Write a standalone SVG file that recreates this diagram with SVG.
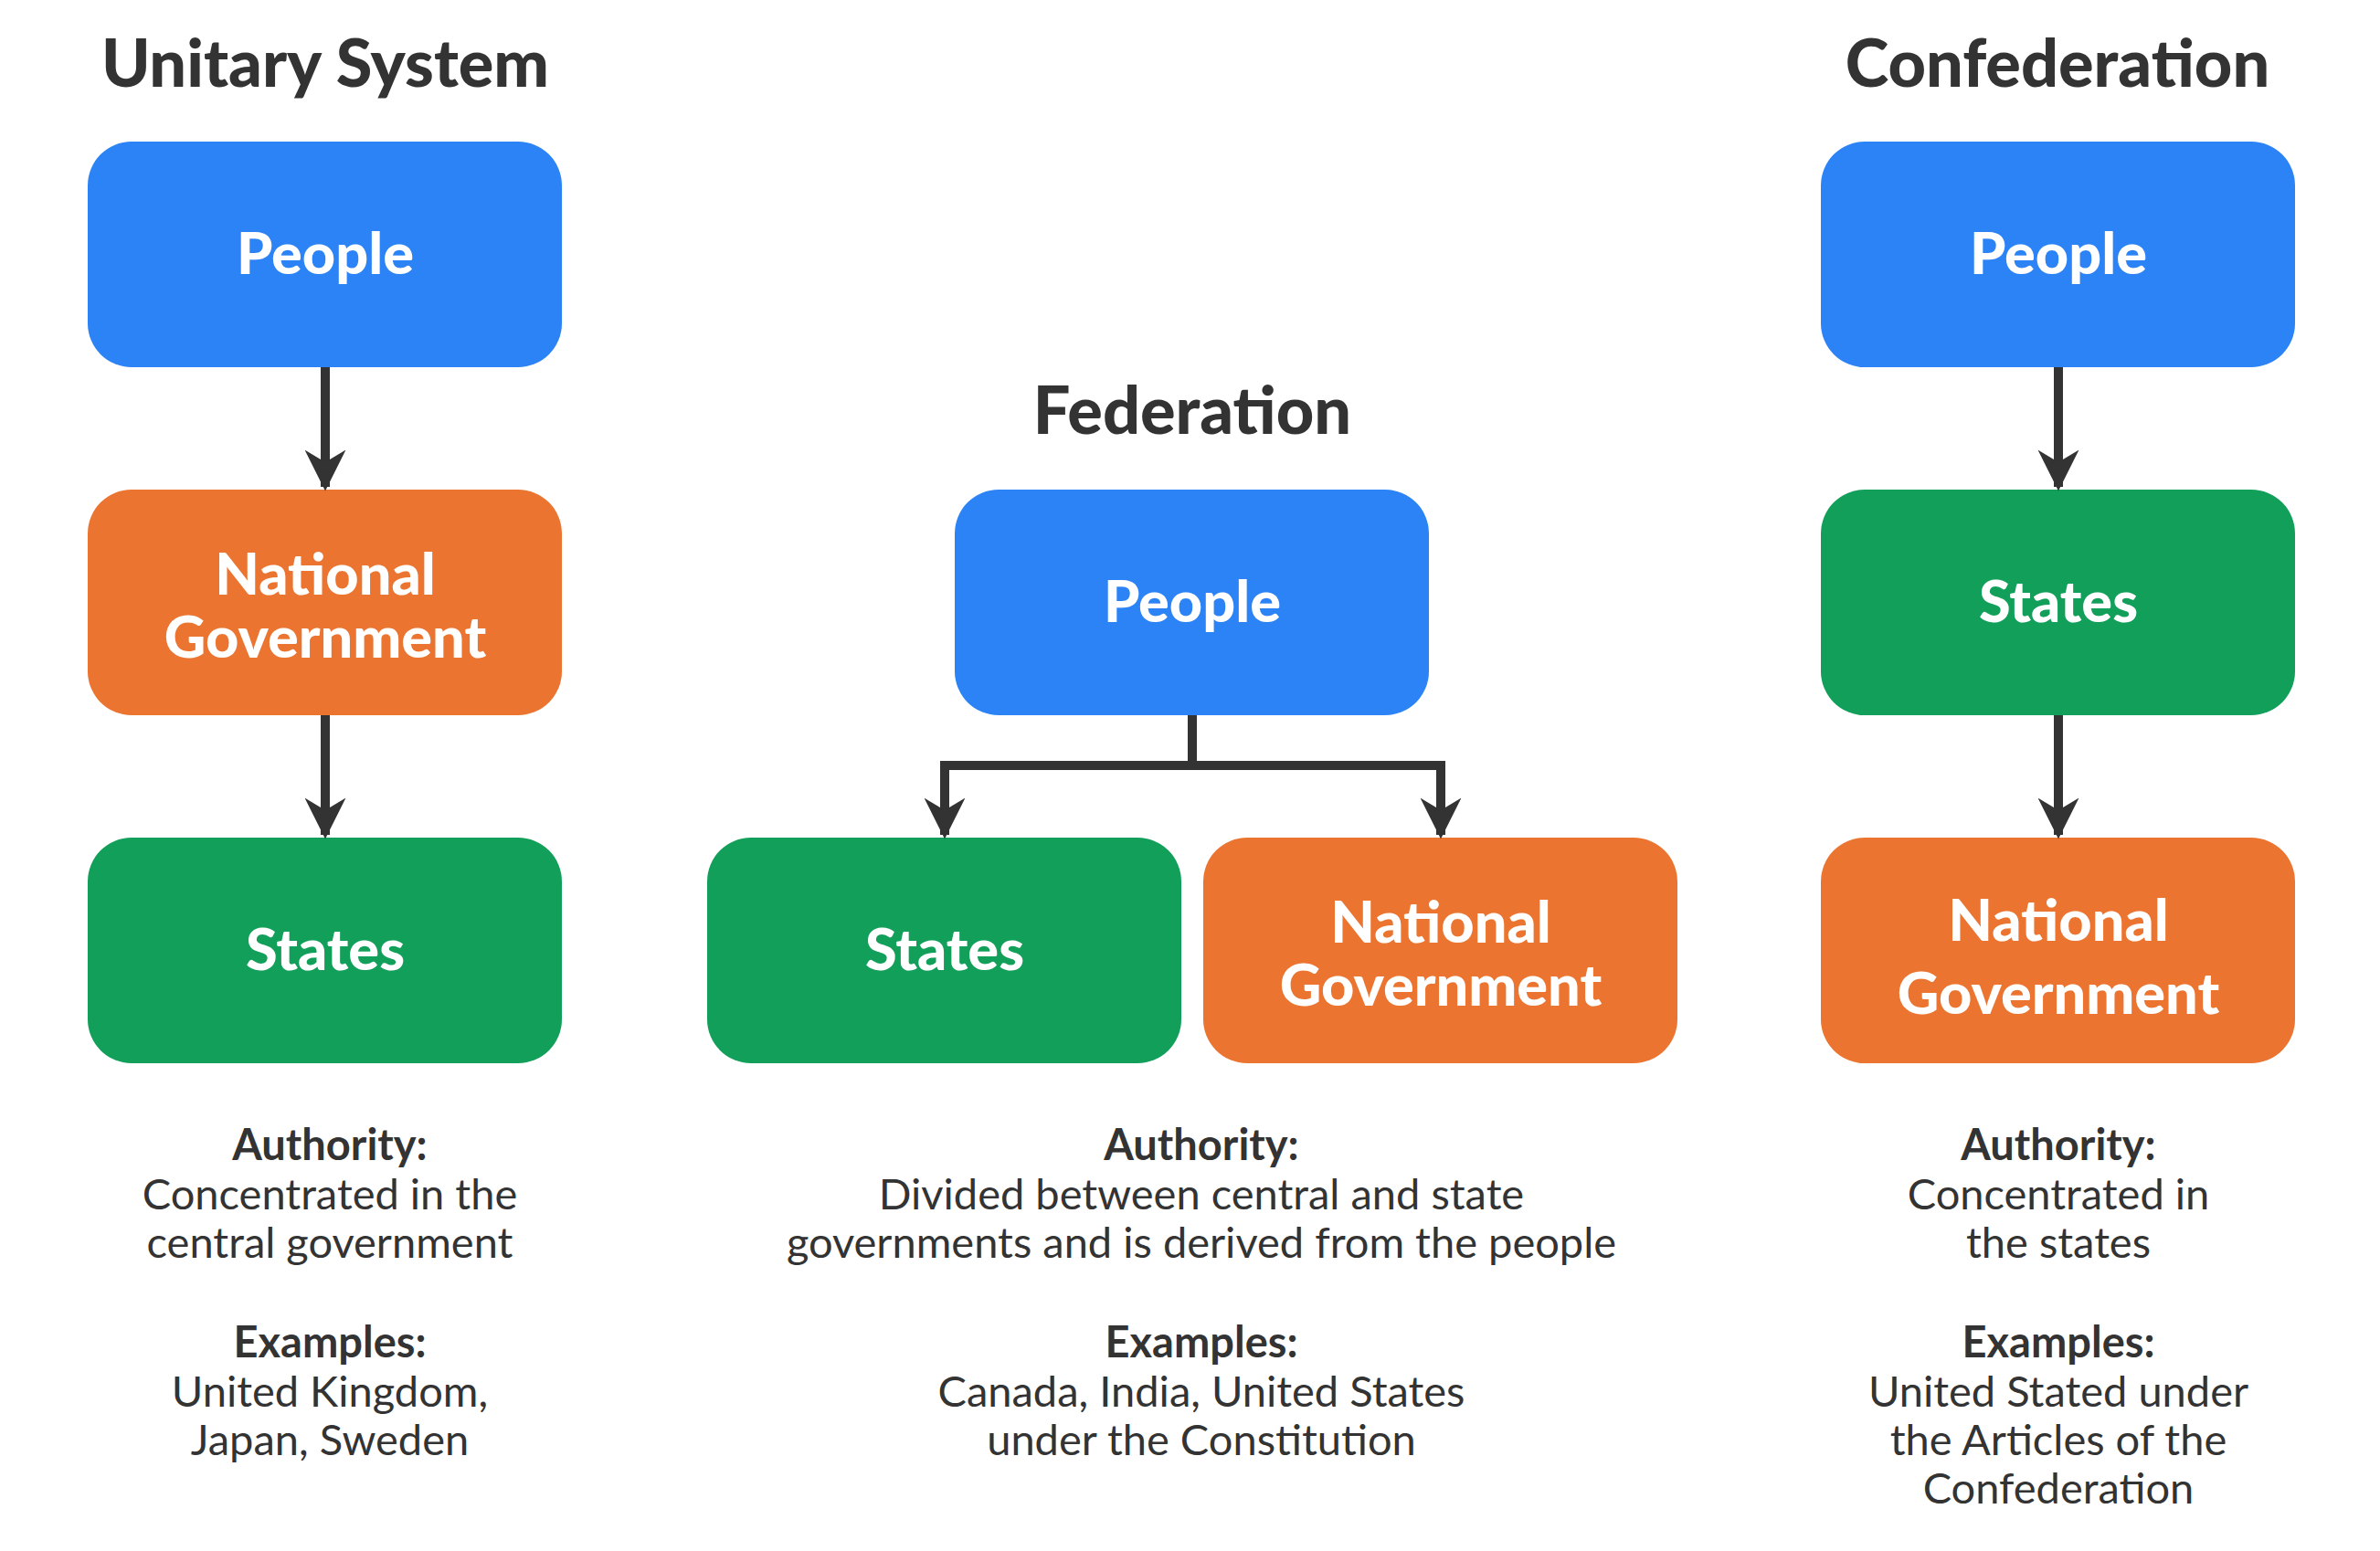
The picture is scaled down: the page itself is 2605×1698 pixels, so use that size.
<svg xmlns="http://www.w3.org/2000/svg" width="2605" height="1698" viewBox="0 0 2605 1698">
<defs>
<style>
.t{font-family:Lato,"Open Sans",sans-serif;font-weight:900;fill:#333;font-size:72px;text-anchor:middle}
.n{font-family:Lato,"Open Sans",sans-serif;font-weight:900;fill:#fff;font-size:63px;text-anchor:middle}
.b{font-family:Lato,"Open Sans",sans-serif;fill:#333;font-size:47px;text-anchor:middle}
.bb{font-weight:700}
.blue{fill:#2B83F6}.orange{fill:#EB7530}.green{fill:#119F5A}
.c{stroke:#333;stroke-width:10;fill:none}
</style>
<marker id="ah" viewBox="0 0 10 10" refX="9" refY="5" markerWidth="4.5" markerHeight="4.5" orient="auto" markerUnits="strokeWidth">
<path d="M0,0 L10,5 L0,10 L3,5 z" fill="#333"/>
</marker>
</defs>
<rect width="2605" height="1698" fill="#fff"/>
<text class="t" x="356" y="95">Unitary System</text>
<text class="t" x="1305" y="475">Federation</text>
<text class="t" x="2252" y="95">Confederation</text>
<g id="u-people"><rect class="blue" x="96" y="155" width="519" height="247" rx="48"/><text class="n" x="356" y="300">People</text></g>
<g id="u-national"><rect class="orange" x="96" y="536" width="519" height="247" rx="48"/><text class="n" x="356" y="651">National</text><text class="n" x="356" y="720">Government</text></g>
<g id="u-states"><rect class="green" x="96" y="917" width="519" height="247" rx="48"/><text class="n" x="356" y="1062">States</text></g>
<g id="f-people"><rect class="blue" x="1045" y="536" width="519" height="247" rx="48"/><text class="n" x="1305" y="681">People</text></g>
<g id="f-states"><rect class="green" x="774" y="917" width="519" height="247" rx="48"/><text class="n" x="1034" y="1062">States</text></g>
<g id="f-national"><rect class="orange" x="1317" y="917" width="519" height="247" rx="48"/><text class="n" x="1577" y="1032">National</text><text class="n" x="1577" y="1101">Government</text></g>
<g id="c-people"><rect class="blue" x="1993" y="155" width="519" height="247" rx="48"/><text class="n" x="2253" y="300">People</text></g>
<g id="c-states"><rect class="green" x="1993" y="536" width="519" height="247" rx="48"/><text class="n" x="2253" y="681">States</text></g>
<g id="c-national"><rect class="orange" x="1993" y="917" width="519" height="247" rx="48"/><text class="n" x="2253" y="1030" font-size="78">National</text><text class="n" x="2253" y="1110" font-size="78">Government</text></g>
<g id="connectors">
<path class="c" d="M356,402 V533" marker-end="url(#ah)"/>
<path class="c" d="M356,783 V914" marker-end="url(#ah)"/>
<path class="c" d="M2253,402 V533" marker-end="url(#ah)"/>
<path class="c" d="M2253,783 V914" marker-end="url(#ah)"/>
<path class="c" d="M1305,783 V838 H1034 V914" marker-end="url(#ah)"/>
<path class="c" d="M1305,838 H1577 V914" marker-end="url(#ah)"/>
</g>
<g id="u-text">
<text class="b bb" x="361" y="1270">Authority:</text>
<text class="b" x="361" y="1324">Concentrated in the</text>
<text class="b" x="361" y="1377">central government</text>
<text class="b bb" x="361" y="1486">Examples:</text>
<text class="b" x="361" y="1540">United Kingdom,</text>
<text class="b" x="361" y="1593">Japan, Sweden</text>
</g>
<g id="f-text">
<text class="b bb" x="1315" y="1270">Authority:</text>
<text class="b" x="1315" y="1324">Divided between central and state</text>
<text class="b" x="1315" y="1377">governments and is derived from the people</text>
<text class="b bb" x="1315" y="1486">Examples:</text>
<text class="b" x="1315" y="1540">Canada, India, United States</text>
<text class="b" x="1315" y="1593">under the Constitution</text>
</g>
<g id="c-text">
<text class="b bb" x="2253" y="1270">Authority:</text>
<text class="b" x="2253" y="1324">Concentrated in</text>
<text class="b" x="2253" y="1377">the states</text>
<text class="b bb" x="2253" y="1486">Examples:</text>
<text class="b" x="2253" y="1540">United Stated under</text>
<text class="b" x="2253" y="1593">the Articles of the</text>
<text class="b" x="2253" y="1646">Confederation</text>
</g>
</svg>
